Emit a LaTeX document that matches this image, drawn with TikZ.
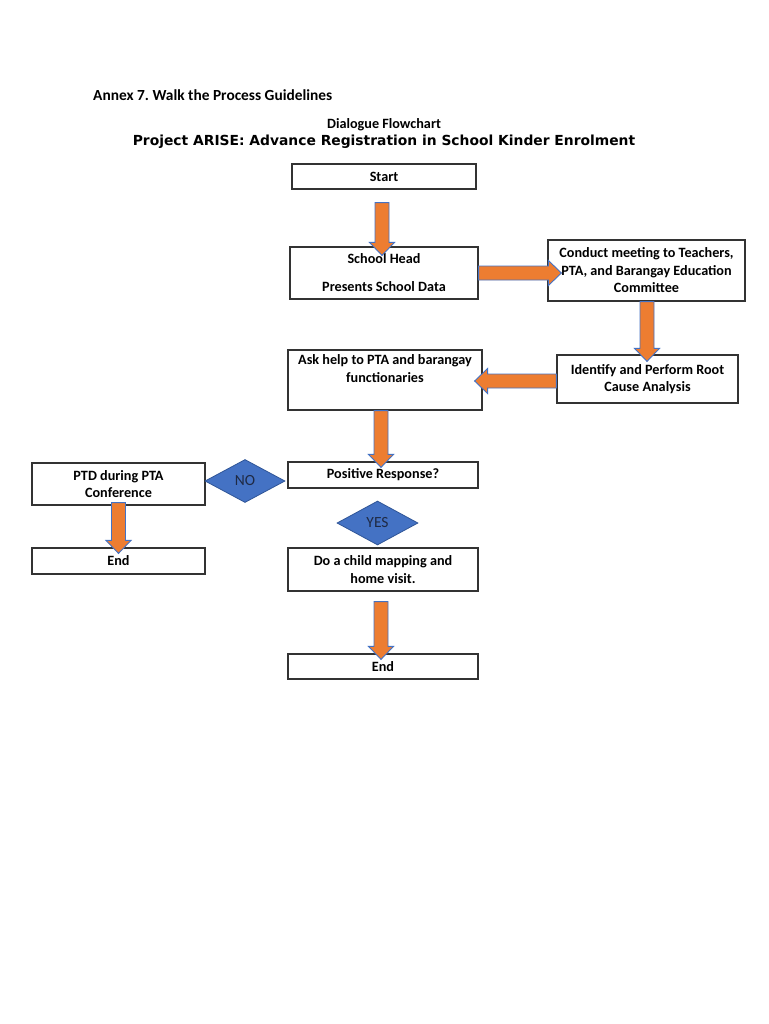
\documentclass[tikz,border=0pt]{standalone}
\usepackage{fontspec}
\setmainfont{Carlito}
\newfontfamily\verd{DejaVu Sans}
\usetikzlibrary{shapes.geometric,calc}
\frenchspacing
\definecolor{arrfill}{HTML}{ED7D31}
\definecolor{arrline}{HTML}{4472C4}
\definecolor{dmfill}{HTML}{4472C4}
\definecolor{dmline}{HTML}{2F5597}
\definecolor{boxline}{HTML}{333333}
\definecolor{dmtext}{HTML}{1F2A44}
\tikzset{
  box/.style={draw=boxline, line width=1.2pt, fill=white, rectangle, inner sep=0pt, align=center,
    font=\bfseries\fontsize{14.2}{17.5}\selectfont},
  dm/.style={diamond, draw=dmline, line width=0.8pt, fill=dmfill, inner sep=0pt,
    font=\fontsize{15.5}{17}\selectfont, text=dmtext},
  arrowsty/.style={fill=arrfill, draw=arrline, line width=0.9pt, line join=miter},
}
\newcommand\barrow[2]{%
  \coordinate (ba-h) at ($(#2)!13pt!(#1)$);
  \filldraw[arrowsty] ($(#1)!7pt!90:(#2)$) -- ($(ba-h)!7pt!-90:(#1)$) -- ($(ba-h)!12.5pt!-90:(#1)$) -- (#2)
    -- ($(ba-h)!12.5pt!90:(#1)$) -- ($(ba-h)!7pt!90:(#1)$) -- ($(#1)!7pt!-90:(#2)$) -- cycle;
}
\begin{document}
\begin{tikzpicture}[x=1pt,y=-1pt]
\useasboundingbox[fill=white] (0,0) rectangle (768,1024);
% titles
\node[anchor=base west, inner sep=0pt, font=\bfseries\fontsize{15.4}{17}\selectfont] (annex) at (93,101) {Annex 7. Walk the Process Guidelines};
\node[anchor=base, inner sep=0pt, font=\bfseries\fontsize{14.2}{16}\selectfont] (dlg) at (384,129) {Dialogue Flowchart};
\node[anchor=base, inner sep=0pt, font=\verd\bfseries\fontsize{13.85}{16}\selectfont] (proj) at (384,146) {Project ARISE: Advance Registration in School Kinder Enrolment};
% boxes
\node[box, minimum width=184pt, minimum height=25pt] (start) at (384,176.5) {Start};
\node[box, minimum width=188pt, minimum height=52pt] (head) at (384,273) {School Head\\[10.5pt]Presents School Data};
\node[box, minimum width=197pt, minimum height=61pt] (conduct) at (646.5,270.5) {Conduct meeting to Teachers,\\PTA, and Barangay Education\\Committee};
\node[box, minimum width=181pt, minimum height=48pt] (ident) at (647.5,379) {Identify and Perform Root\\Cause Analysis};
\node[box, minimum width=194pt, minimum height=60pt] (ask) at (385,380) {Ask help to PTA and barangay\\functionaries\\\strut};
\node[box, minimum width=190pt, minimum height=26pt] (pos) at (383,475) {Positive Response?};
\node[box, minimum width=173pt, minimum height=42pt] (ptd) at (118.5,484) {PTD during PTA\\Conference};
\node[box, minimum width=173pt, minimum height=26pt] (endl) at (118.5,561) {End};
\node[box, minimum width=190pt, minimum height=43pt] (child) at (383,569.5) {Do a child mapping and\\home visit.};
\node[box, minimum width=190pt, minimum height=25pt] (endr) at (383,666.5) {End};
\node[dm, minimum width=80pt, minimum height=43pt] (no) at (245,481) {NO};
\node[dm, minimum width=81pt, minimum height=44pt] (yes) at (377.5,523) {YES};
% arrows
\coordinate (a1s) at ($(start.south)+(-2,13)$);
\coordinate (a1e) at ($(head.north)+(-2,9)$);
\barrow{a1s}{a1e}
\coordinate (a2s) at ($(head.east)+(0,0)$);
\coordinate (a2e) at ($(conduct.west)+(14,2.5)$);
\barrow{a2s}{a2e}
\coordinate (a3s) at ($(conduct.south)+(0.5,0)$);
\coordinate (a3e) at ($(ident.north)+(-0.5,7)$);
\barrow{a3s}{a3e}
\coordinate (a4s) at ($(ident.west)+(0,2)$);
\coordinate (a4e) at ($(ask.east)+(-8,1)$);
\barrow{a4s}{a4e}
\coordinate (a5s) at ($(ask.south)+(-4,0)$);
\coordinate (a5e) at ($(pos.north)+(-2,6)$);
\barrow{a5s}{a5e}
\coordinate (a6s) at ($(ptd.south)+(0,-3)$);
\coordinate (a6e) at ($(endl.north)+(0,6)$);
\barrow{a6s}{a6e}
\coordinate (a7s) at ($(child.south)+(-2,10)$);
\coordinate (a7e) at ($(endr.north)+(-2,6)$);
\barrow{a7s}{a7e}
\end{tikzpicture}
\end{document}
